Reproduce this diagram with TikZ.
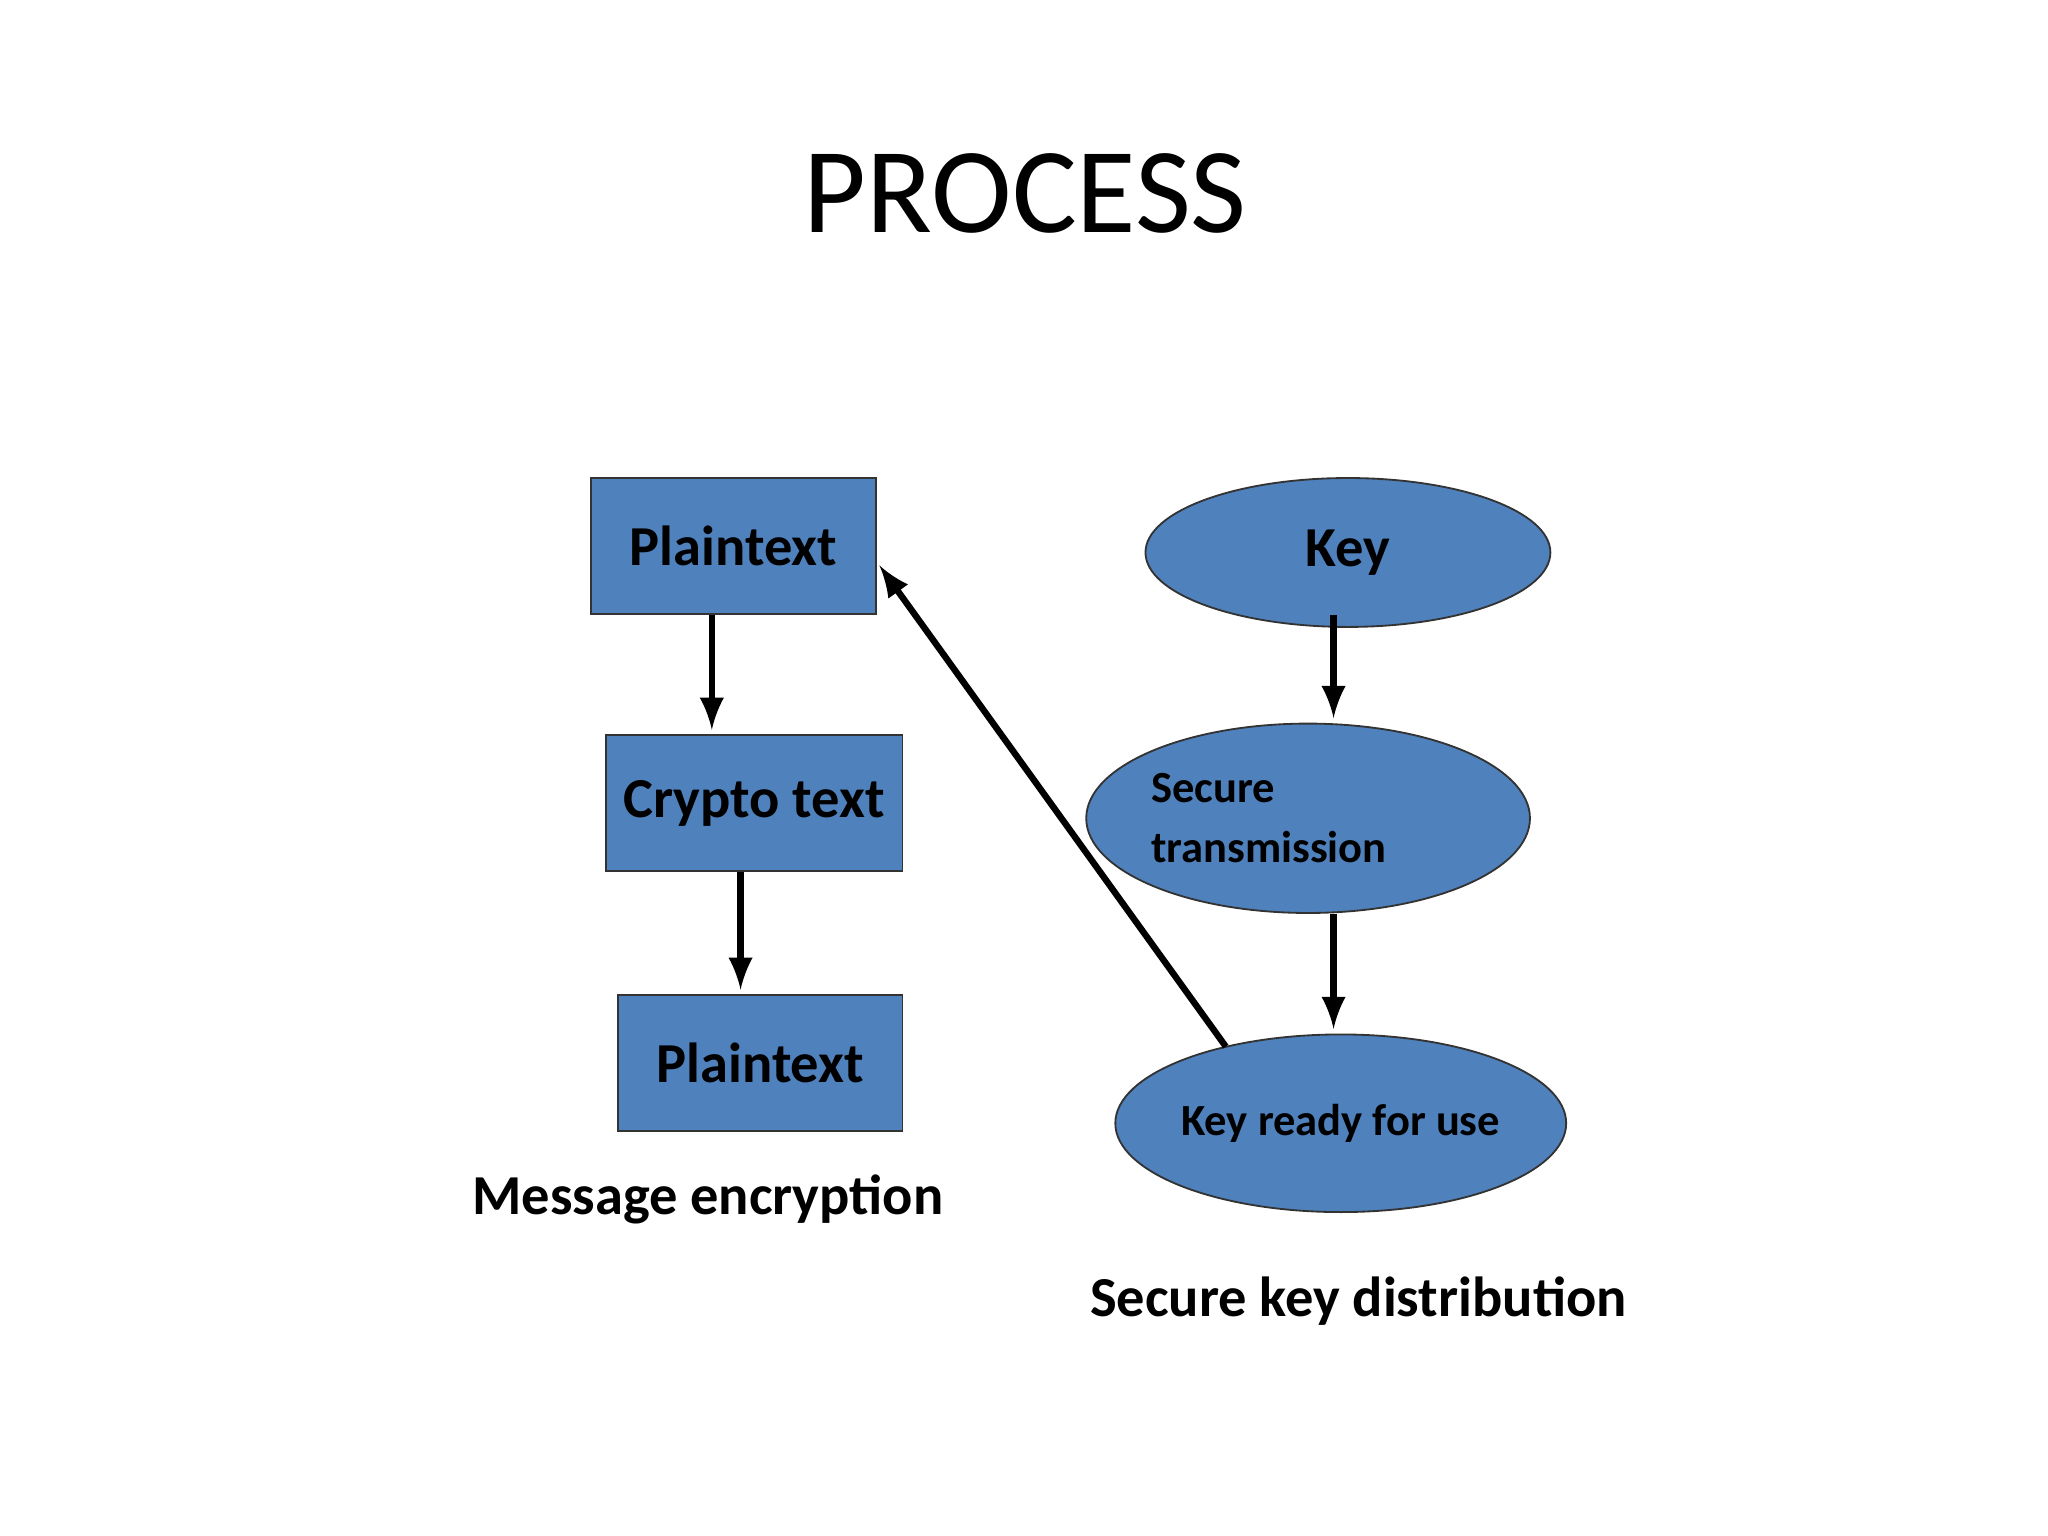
\documentclass[tikz,border=0pt]{standalone}
\usepackage{fontspec}
\setmainfont{Carlito}
\usetikzlibrary{shapes.geometric, positioning, calc}

\definecolor{blue4}{HTML}{4F81BD}
\tikzset{
  box/.style={draw=black!80, fill=blue4, minimum width=2.18cm, minimum height=1.04cm, font=\fontsize{12.3}{14}\selectfont\bfseries},
  oval/.style={ellipse, draw=black!80, fill=blue4, inner sep=0pt, font=\fontsize{9.7}{13}\selectfont\bfseries},
  caption/.style={font=\fontsize{12.3}{14}\selectfont\bfseries},
  arr/.style={->, >=latex, line width=1.4pt, shorten >=1pt}
}

\begin{document}
\begin{tikzpicture}
  \useasboundingbox (0,0) rectangle (15.68,-11.76);
  \node[font=\fontsize{26.5}{30}\selectfont] (title) at (7.85,-1.48) {PROCESS};

  % message encryption
  \node[box] (p1) at (5.615,-4.18) {Plaintext};
  \node[box, minimum width=2.27cm] (ct) at (5.775,-6.15) {Crypto text};
  \node[box] (p2) at (5.82,-8.14) {Plaintext};
  \node[caption] (lme) at (5.42,-9.18) {Message encryption};

  % key distribution
  \node[oval, minimum width=3.10cm, minimum height=1.14cm, font=\fontsize{12.3}{14}\selectfont\bfseries] (key) at (10.32,-4.23) {Key};
  \node[oval, minimum width=2.89cm, minimum height=1.45cm, align=left] (st) at (10.015,-6.265) {Secure\\transmission\hspace*{0.6cm}};
  \node[oval, minimum width=2.99cm, minimum height=1.36cm] (kr) at (10.265,-8.60) {Key ready for use};
  \node[caption] (lkd) at (10.40,-9.96) {Secure key distribution};

  \draw[arr] ([xshift=-0.165cm]p1.south) -- ([xshift=-0.165cm]p1.south |- ct.north);
  \draw[arr] ([xshift=-0.105cm]ct.south) -- ([xshift=-0.105cm]ct.south |- p2.north);
  \draw[arr] ([xshift=-0.11cm,yshift=0.1cm]key.south) -- ([xshift=-0.11cm]key.south |- st.north);
  \draw[arr] ([xshift=0.195cm]st.south) -- ([xshift=0.195cm]st.south |- kr.north);
  \draw[arr] ($(kr.north)+(-0.88,-0.10)$) -- ([yshift=-0.12cm]p1.east);
\end{tikzpicture}
\end{document}
